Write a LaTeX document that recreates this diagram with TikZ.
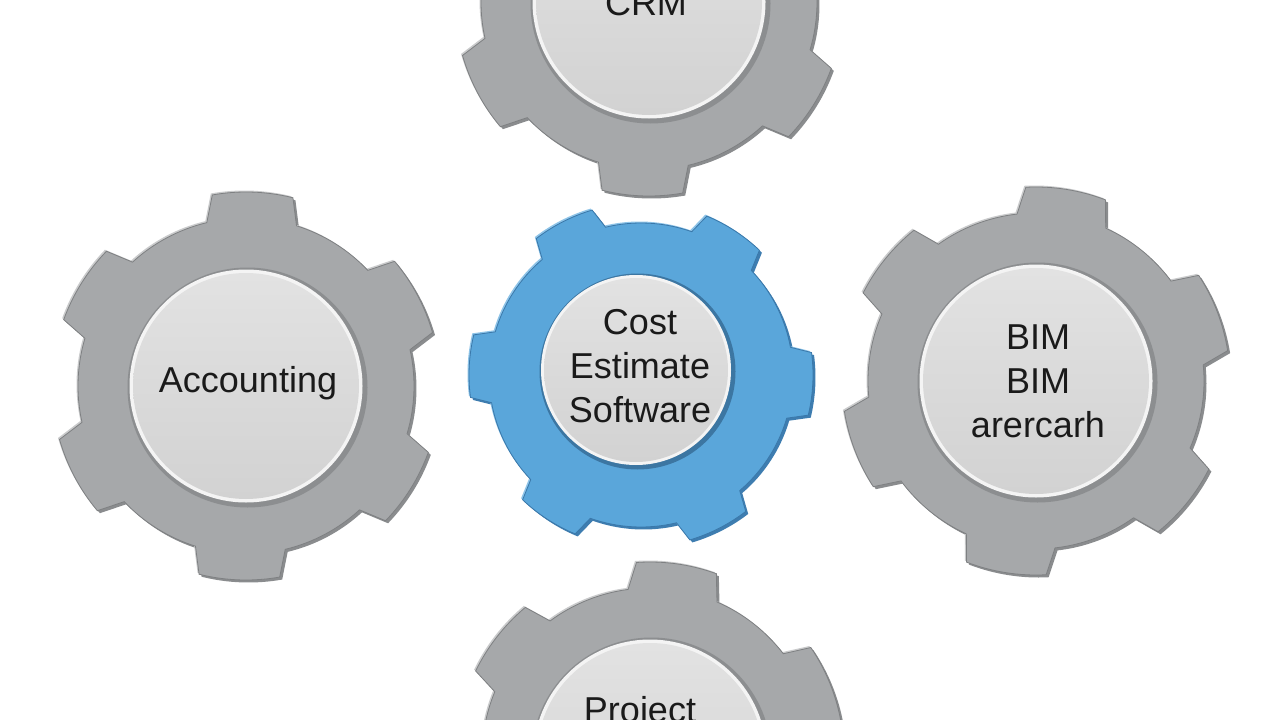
\documentclass[tikz,border=0pt]{standalone}
\usepackage{fontspec}
\setmainfont{Liberation Sans}
\definecolor{gfill}{HTML}{A6A8AA}
\definecolor{gborder}{HTML}{7E8082}
\definecolor{gshadow}{HTML}{8A8C8E}
\definecolor{glight}{HTML}{CACBCC}
\definecolor{ringsh}{HTML}{8C8E90}
\definecolor{rimw}{HTML}{F4F4F4}
\definecolor{intop}{HTML}{E2E2E2}
\definecolor{inbot}{HTML}{D2D2D2}
\definecolor{bfill}{HTML}{5AA6DA}
\definecolor{bborder}{HTML}{3A78AA}
\definecolor{bshadow}{HTML}{3E7DB0}
\definecolor{blight}{HTML}{8EC4E8}
\definecolor{bring}{HTML}{3C76A2}
\definecolor{txt}{HTML}{1A1A1A}
\newcommand{\gearpath}[5]{% rot, rtip, rroot, halftip, halfroot
  ({#1-#5}:#3)
  \foreach \k in {0,...,5} {
    -- ({#1+60*\k-#5}:#3) -- ({#1+60*\k-#4}:#2)
    arc[start angle={#1+60*\k-#4}, end angle={#1+60*\k+#4}, radius=#2]
    -- ({#1+60*\k+#5}:#3)
    arc[start angle={#1+60*\k+#5}, end angle={#1+60*\k+60-#5}, radius=#3]
  } -- cycle
}
\newcommand{\graygear}[3]{% cx, cy, rot
  \begin{scope}[shift={(#1,#2)}]
    \fill[gshadow, shift={(2.5,2.5)}] \gearpath{#3}{194}{168}{12}{15.5};
    \fill[glight, shift={(-1.5,-1.5)}] \gearpath{#3}{194}{168}{12}{15.5};
    \filldraw[fill=gfill, draw=gborder, line width=0.8pt] \gearpath{#3}{194}{168}{12}{15.5};
    \fill[ringsh] (1.5,1.5) circle[radius=120];
    \fill[rimw] (0,0) circle[radius=116.5];
    \shade[top color=intop, bottom color=inbot] (0,0) circle[radius=113];
  \end{scope}
}
\tikzset{
  label/.style={text=txt, align=center, font=\fontsize{36}{44}\selectfont, inner sep=0pt}
}
\begin{document}
\begin{tikzpicture}[x=1pt, y=-1pt]
  \useasboundingbox (0,0) rectangle (1280,720);
  \fill[white] (0,0) rectangle (1280,720);
  % gray gears
  \graygear{649}{2}{-88}
  \graygear{246}{386}{-88}
  \graygear{1036}{381}{-81}
  \graygear{650}{756}{-82}
  % blue gear
  \begin{scope}[shift={(641,375)}]
    \fill[bshadow, shift={(2.5,2.5)}] \gearpath{3}{172}{152}{10.5}{13.5};
    \fill[blight, shift={(-1.5,-1.5)}] \gearpath{3}{172}{152}{10.5}{13.5};
    \filldraw[fill=bfill, draw=bborder, line width=0.8pt] \gearpath{3}{172}{152}{10.5}{13.5};
    \fill[bring] (-3.5,-3.5) circle[radius=98];
    \fill[rimw] (-5,-5) circle[radius=95];
    \shade[top color=intop, bottom color=inbot] (-5,-5) circle[radius=92];
  \end{scope}
  % labels
  \node[label, anchor=base] (crm) at (646,16) {CRM};
  \node[label] (acc) at (248,383) {Accounting};
  \node[label] (cost) at (640,366) {Cost\\Estimate\\Software};
  \node[label] (bim) at (1038,381) {BIM\\BIM\\arercarh};
  \node[label, anchor=base] (proj) at (640,722) {Project};
\end{tikzpicture}
\end{document}
